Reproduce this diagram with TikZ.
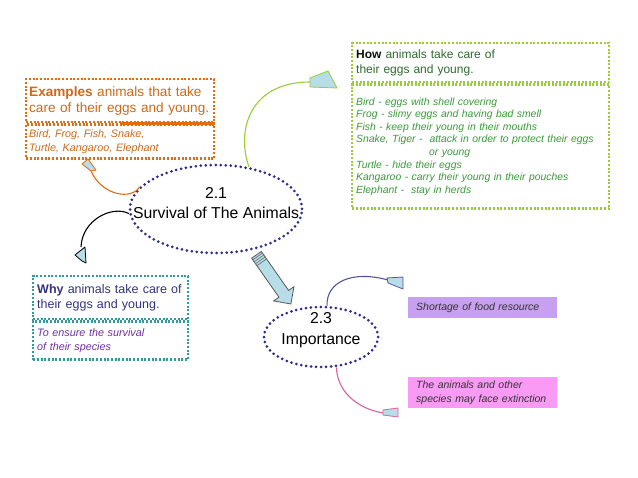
\documentclass[tikz,border=0pt]{standalone}
\usepackage{fontspec}
\setmainfont{Liberation Sans}
\usepackage{xcolor}
\usetikzlibrary{positioning, shapes.geometric, shapes.arrows, calc}
\definecolor{exline}{HTML}{E46C0A}
\definecolor{extext}{HTML}{CC6A1C}
\definecolor{howline}{HTML}{9ACD32}
\definecolor{howtext}{HTML}{2F6B2F}
\definecolor{howlist}{HTML}{3A9A3A}
\definecolor{whyline}{HTML}{339999}
\definecolor{whytext}{HTML}{33337F}
\definecolor{whylist}{HTML}{7030A0}
\definecolor{navy}{HTML}{2E2E8A}
\definecolor{tipblue}{HTML}{B7DEE8}
\definecolor{lavender}{HTML}{C8A0F0}
\definecolor{pinkbox}{HTML}{F99BF5}
\definecolor{foodline}{HTML}{55559E}
\definecolor{extline}{HTML}{E0609A}

\begin{document}
\begin{tikzpicture}[x=1pt, y=-1pt,
  dotbox/.style={draw=#1, line width=2.4pt, dash pattern=on 2pt off 1.7pt,
                 anchor=north west, align=left, inner xsep=3pt, inner ysep=4pt},
  items/.style={font=\fontsize{10.8}{14}\selectfont\itshape},
  topic/.style={ellipse, draw=navy, line width=3pt, dash pattern=on 0pt off 5pt,
                line cap=round, inner sep=0pt},
  topictext/.style={align=center, font=\fontsize{15.8}{20.5}\selectfont},
  note/.style={anchor=north west, align=left, inner xsep=8pt, inner ysep=3pt,
               font=\fontsize{10.5}{14}\selectfont\itshape, text=black!80},
  link/.style={line width=1.1pt},
  flag/.style={fill=tipblue, line width=0.8pt, line join=round}
]
  \fill[white] (0,0) rectangle (638,478);
  \useasboundingbox (0,0) rectangle (638,478);

  % Examples
  \node[dotbox=exline, font=\fontsize{13.6}{16}\selectfont, text=extext, text width=182pt,
        minimum height=43pt]
    (exHead) at (25,78) {\textbf{Examples} animals that take\\care of their eggs and young.};
  \node[dotbox=exline, items, text=extext, text width=182pt, minimum height=34pt]
    (exBody) at (exHead.south west) {Bird, Frog, Fish, Snake,\\Turtle, Kangaroo, Elephant};
  \draw[exline, line width=2.4pt] ($(exBody.north west)!0.5!(exBody.north east)$) -- (exBody.north east);

  % How
  \node[dotbox=howline, font=\fontsize{12}{14.5}\selectfont, text=howtext, text width=249pt,
        minimum height=39pt, inner xsep=4pt]
    (howHead) at (351,42) {\textbf{\textcolor{black!80!howtext}{How}} animals take care of\\their eggs and young.};
  \node[dotbox=howline, text=howlist, text width=249pt, minimum height=124pt, inner xsep=4pt,
        font=\fontsize{10.4}{12.6}\selectfont\itshape]
    (howBody) at (howHead.south west) {Bird - eggs with shell covering\\
      Frog - slimy eggs and having bad smell\\
      Fish - keep their young in their mouths\\
      Snake, Tiger -~~attack in order to protect their eggs\\
      \hspace*{73pt}or young\\
      Turtle - hide their eggs\\
      Kangaroo - carry their young in their pouches\\
      Elephant -~~stay in herds};

  % Why
  \node[dotbox=whyline, font=\fontsize{12.5}{15}\selectfont, text=whytext, text width=147pt,
        minimum height=43pt, inner xsep=4pt]
    (whyHead) at (32,275) {\textbf{Why} animals take care of\\their eggs and young.};
  \node[dotbox=whyline, items, text=whylist, text width=147pt, minimum height=38pt, inner xsep=4pt]
    (whyBody) at (whyHead.south west) {To ensure the survival\\of their species};

  % Topics
  \node[topic, minimum width=172pt, minimum height=88pt] (s21) at (216,209) {};
  \node[topictext] (s21Text) at ($(s21.center)+(0,-6)$) {2.1\\Survival of The Animals};
  \node[topic, minimum width=114pt, minimum height=60pt] (s23) at (321,337) {};
  \node[topictext] (s23Text) at ($(s23.center)+(0,-7)$) {2.3\\Importance};

  % Importance notes
  \node[note, fill=lavender, text width=133pt, minimum height=21pt]
    (food) at (408,297) {Shortage of food resource};
  \node[note, fill=pinkbox, text width=133pt, minimum height=31pt]
    (extinct) at (408,377) {The animals and other\\species may face extinction};

  % Big arrow
  \node[single arrow, draw=black!65, fill=tipblue, line width=0.8pt, minimum height=60pt,
        inner sep=5.5pt, single arrow head extend=6.5pt, rotate=-55] (bigArr) at (272,277) {};
  \foreach \f in {0.05,0.1,0.15,0.2}
    \draw[black!55, line width=0.7pt] ($(bigArr.before tail)!\f!(bigArr.after head)$)
      -- ($(bigArr.after tail)!\f!(bigArr.before head)$);

  % Connectors
  \coordinate (exTip) at (91,171);
  \coordinate (howTip) at (310,82);
  \coordinate (whyTip) at (81,247);
  \coordinate (foodTip) at (388,280);
  \coordinate (extTip) at (383,413);

  \draw[link, exline] (s21.164) .. controls (132,200) and (102,196) .. (exTip);
  \draw[link, howline] (s21.52) .. controls (236,130) and (250,82) .. (howTip);
  \draw[link, black] (s21.183) .. controls (112,205) and (82,220) .. (whyTip);
  \draw[link, foodline] (s23.79) .. controls (326,282) and (352,270) .. (foodTip);
  \draw[link, extline] (s23.297) .. controls (337,390) and (355,408) .. (extTip);

  \filldraw[flag, draw=exline] ($(exTip)+(-9,-7)$) -- ($(exTip)+(-3,-12)$)
    -- ($(exTip)+(5,-1)$) -- (exTip) -- cycle;
  \filldraw[flag, draw=howline] ($(howTip)+(0,-4)$) -- ($(howTip)+(18,-11)$)
    -- ($(howTip)+(27,6)$) -- ($(howTip)+(0,5)$) -- cycle;
  \filldraw[flag, draw=black] ($(whyTip)+(-6,8)$) -- ($(whyTip)+(4,0)$)
    -- ($(whyTip)+(5,16)$) -- ($(whyTip)+(1,14)$) -- cycle;
  \filldraw[flag, draw=foodline] ($(foodTip)+(-1,-2)$) -- ($(foodTip)+(15,-3)$)
    -- ($(foodTip)+(15,9)$) -- ($(foodTip)+(0,3)$) -- cycle;
  \filldraw[flag, draw=extline] ($(extTip)+(0,-3)$) -- ($(extTip)+(15,-5)$)
    -- ($(extTip)+(15,4)$) -- ($(extTip)+(0,2)$) -- cycle;
\end{tikzpicture}
\end{document}
